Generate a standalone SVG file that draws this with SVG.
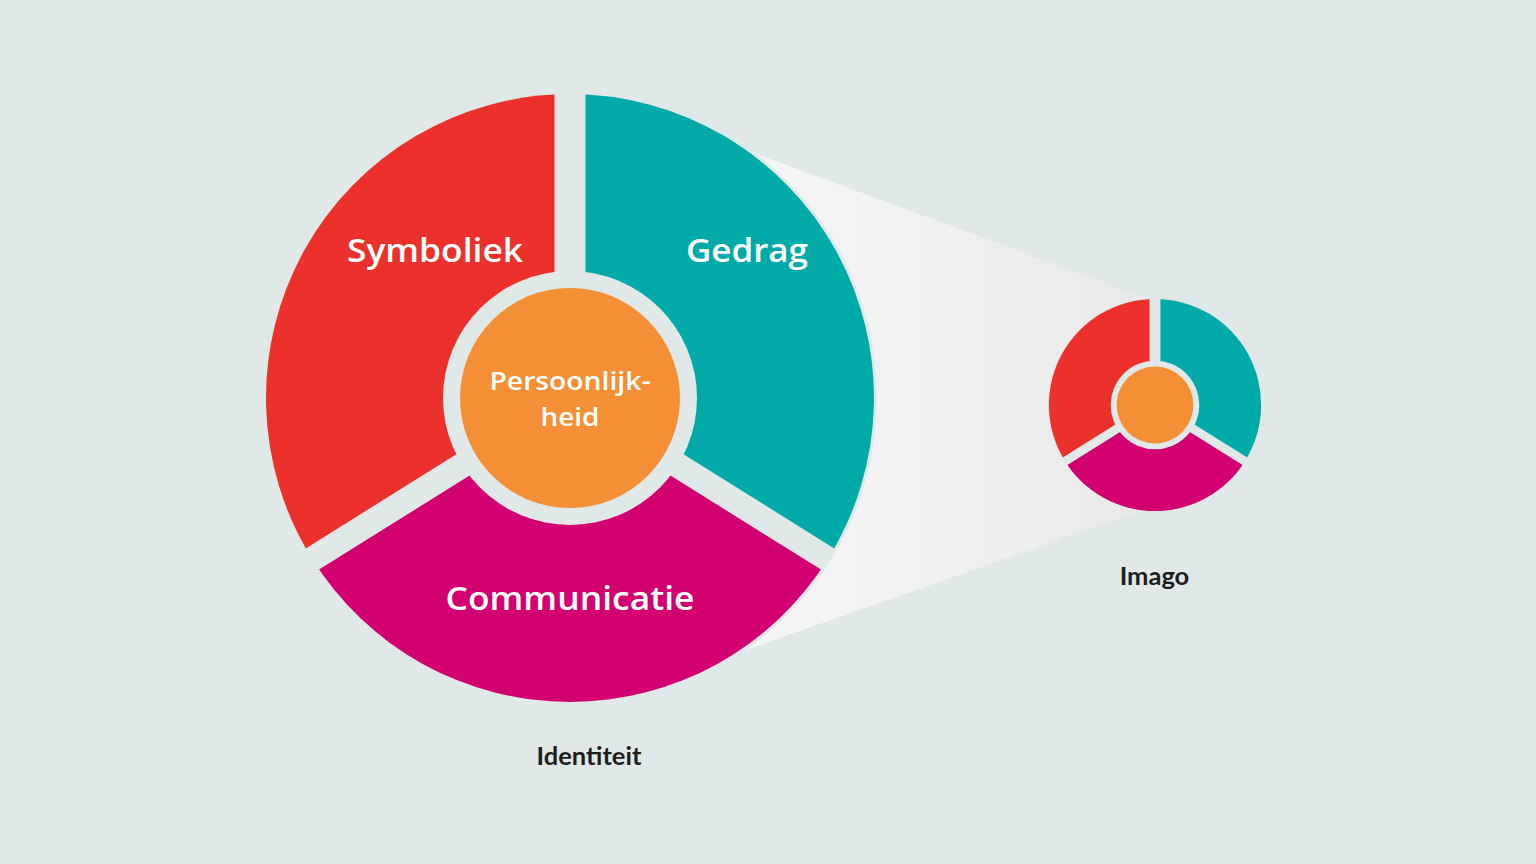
<svg xmlns="http://www.w3.org/2000/svg" width="1536" height="864" viewBox="0 0 1536 864">
<defs>
<linearGradient id="funnelGrad" x1="0" y1="0" x2="1" y2="0">
<stop offset="0" stop-color="#f7f7f7"/>
<stop offset="1" stop-color="#e9e9e9"/>
</linearGradient>
<g id="ring">
<circle cx="0" cy="0" r="307" fill="#e0e9e7"/>
<path d="M0 0 L-257.8 161.1 A304 304 0 0 1 0 -304 Z" fill="#ec302b"/>
<path d="M0 0 L0 -304 A304 304 0 0 1 257.8 161.1 Z" fill="#00aaa9"/>
<path d="M0 0 L257.8 161.1 A304 304 0 0 1 -257.8 161.1 Z" fill="#d20070"/>
<g stroke="#e0e9e7">
<line x1="0" y1="0" x2="0" y2="-306" stroke-width="31"/>
<line x1="0" y1="0" x2="260" y2="162.5" stroke-width="25"/>
<line x1="0" y1="0" x2="-260" y2="162.5" stroke-width="25"/>
</g>
<circle cx="0" cy="0" r="127" fill="#e0e9e7"/>
<circle cx="0" cy="0" r="110" fill="#f48f35"/>
</g>
</defs>
<style>
.seg{font-family:"Open Sans","Noto Sans",sans-serif;font-weight:600;fill:#ffffff;text-anchor:middle}
.cap{font-family:Lato,"Liberation Sans",sans-serif;font-weight:700;fill:#1e1e1e;text-anchor:middle}
</style>
<rect width="1536" height="864" fill="#e0e9e7"/>
<g id="connectors">
<polygon points="700,133 1155,301 1155,506 700,666" fill="url(#funnelGrad)"/>
</g>
<g id="identiteit">
<use href="#ring" transform="translate(570 398)"/>
<text class="seg" x="435" y="262" font-size="33" textLength="176" lengthAdjust="spacingAndGlyphs">Symboliek</text>
<text class="seg" x="747" y="262" font-size="33" textLength="122" lengthAdjust="spacingAndGlyphs">Gedrag</text>
<text class="seg" x="570" y="610" font-size="33" textLength="249" lengthAdjust="spacingAndGlyphs">Communicatie</text>
<text class="seg" x="570" y="390" font-size="26" textLength="161" lengthAdjust="spacingAndGlyphs">Persoonlijk-</text>
<text class="seg" x="570" y="426" font-size="26" textLength="59" lengthAdjust="spacingAndGlyphs">heid</text>
<text class="cap" x="589" y="765" font-size="25.5">Identiteit</text>
</g>
<g id="imago">
<use href="#ring" transform="translate(1155 405) scale(0.349)"/>
<text class="cap" x="1154.5" y="585" font-size="25.5">Imago</text>
</g>
</svg>
